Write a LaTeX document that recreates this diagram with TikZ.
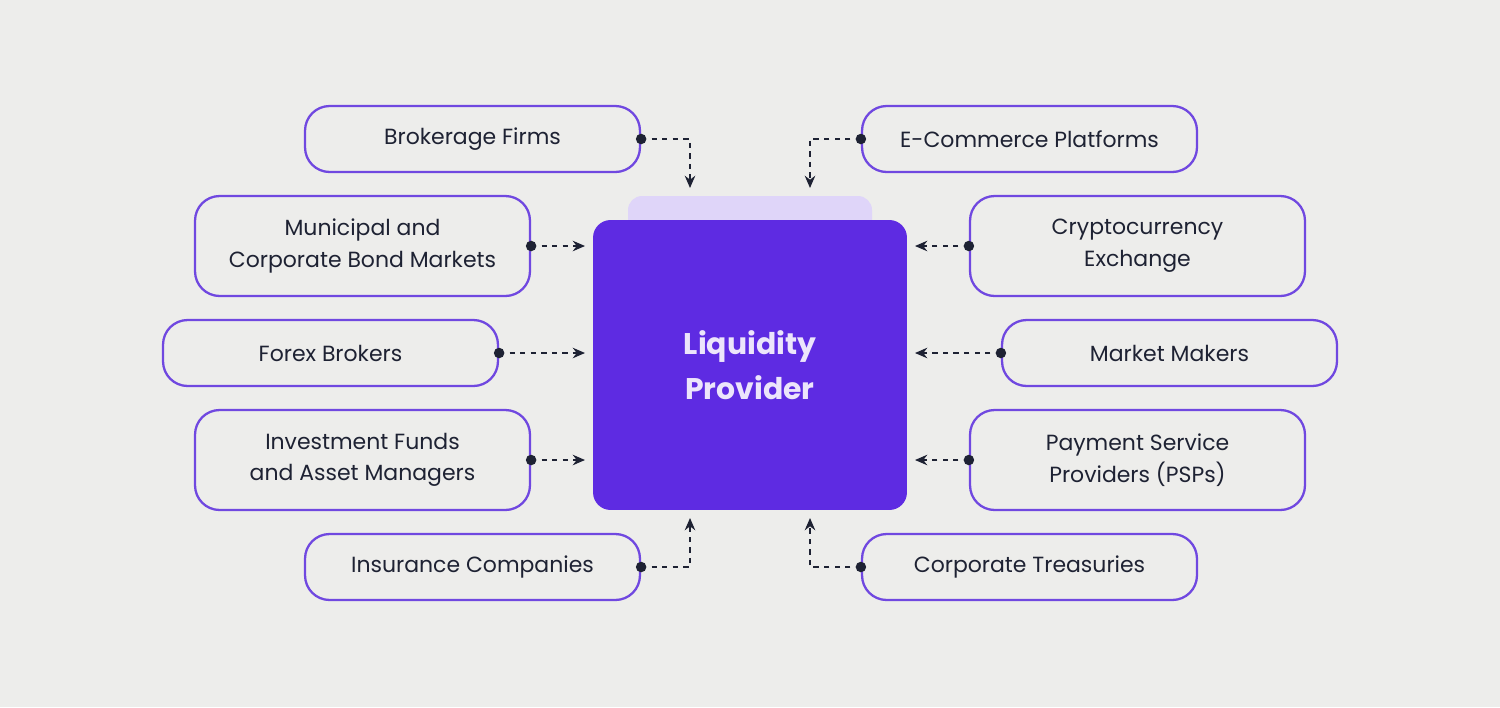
\documentclass[tikz,border=0pt]{standalone}
\usepackage{fontspec}
\setmainfont{Poppins}
\usetikzlibrary{positioning,arrows.meta}
\definecolor{bgpaper}{HTML}{EDEDEB}
\definecolor{lpviolet}{HTML}{5E2BE2}
\definecolor{edgepurple}{HTML}{7048E0}
\definecolor{inkdark}{HTML}{1E2233}

\begin{document}
\begin{tikzpicture}
    [ x = .02cm, y = -.02cm
    , client/.style =
      { draw = edgepurple, line width = 1.3pt, rounded corners = 14pt
      , minimum width = 6.7cm, minimum height = 1.32cm, align = center
      , text = inkdark, font = \fontsize{12.5}{18}\selectfont }
    , tall/.style =
      { minimum height = 2cm }
    , link/.style =
      { dashed, thick, inkdark, -{Stealth[length=7pt, width=6pt]} }
    , hub/.style =
      { circle, fill = inkdark, inner sep = 0pt, minimum size = 6pt }
    ]
    \fill [bgpaper] (0,0) rectangle (1500,707);
    \useasboundingbox (0,0) rectangle (1500,707);

    % central provider
    \fill [lpviolet!20, rounded corners = 8pt] (628,196) rectangle (872,240);
    \node [fill = lpviolet, rounded corners = 10pt, minimum width = 6.28cm,
      minimum height = 5.8cm, text = white!88!lpviolet, align = center,
      font = \fontsize{17}{26}\selectfont\bfseries] (lp) at (750,365)
      {Liquidity\\Provider};

    % left side
    \node [client] (brok) at (472.5,139) {Brokerage Firms};
    \node [client, tall] (muni) at (362.5,246) {Municipal and\\Corporate Bond Markets};
    \node [client] (forex) at (330.5,353) {Forex Brokers};
    \node [client, tall] (invest) at (362.5,460) {Investment Funds\\and Asset Managers};
    \node [client] (insur) at (472.5,567) {Insurance Companies};

    % right side
    \node [client] (ecom) at (1029.5,139) {E-Commerce Platforms};
    \node [client, tall] (crypto) at (1137.5,246) {Cryptocurrency\\Exchange};
    \node [client] (mm) at (1169.5,353) {Market Makers};
    \node [client, tall] (psp) at (1137.5,460) {Payment Service\\Providers (PSPs)};
    \node [client] (treas) at (1029.5,567) {Corporate Treasuries};

    % connectors
    \draw [link] (brok.east) -| (690,188);
    \draw [link] (ecom.west) -| (810,188);
    \draw [link] (insur.east) -| (690,518);
    \draw [link] (treas.west) -| (810,518);
    \draw [link] (muni.east) -- (585,246);
    \draw [link] (forex.east) -- (585,353);
    \draw [link] (invest.east) -- (585,460);
    \draw [link] (crypto.west) -- (915,246);
    \draw [link] (mm.west) -- (915,353);
    \draw [link] (psp.west) -- (915,460);
    \foreach \n/\a in {brok/east, muni/east, forex/east, invest/east, insur/east,
      ecom/west, crypto/west, mm/west, psp/west, treas/west}
      \node [hub] at (\n.\a) {};
  \end{tikzpicture}
\end{document}
